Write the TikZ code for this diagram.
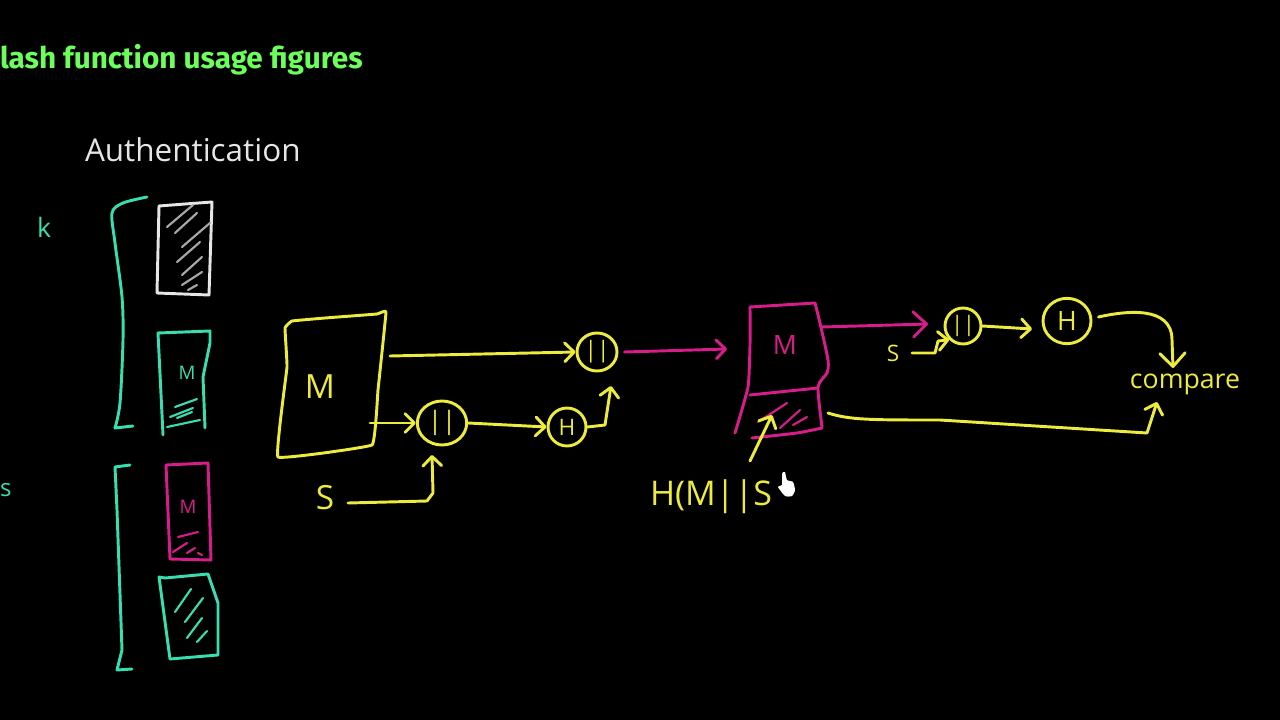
\documentclass[tikz,border=0pt]{standalone}
\usepackage{fontspec}
\usetikzlibrary{shapes.geometric,arrows.meta}
\setmainfont{Open Sans}
\newfontfamily\titlefont{Fira Sans}[UprightFont=* Bold]
\definecolor{yelink}{HTML}{EDEB3C}
\definecolor{magink}{HTML}{D91C8C}
\definecolor{tealink}{HTML}{38DDB0}
\definecolor{whiteink}{HTML}{E6E6E6}
\definecolor{hatchink}{HTML}{A8A8A8}
\definecolor{titleink}{HTML}{6CFF5C}
\newcommand{\fs}[1]{\fontsize{#1}{#1}\selectfont}
\tikzset{
  x=0.75pt,y=-0.75pt,
  pen/.style={line width=2.2pt,line cap=round,line join=round},
  thin pen/.style={line width=1.6pt,line cap=round,line join=round},
  arr/.style={pen,-{Straight Barb[length=7pt,width=14pt,round]}},
  bigarr/.style={pen,-{Straight Barb[length=10pt,width=19pt,round]}},
  ring/.style={ellipse,draw=yelink,pen,inner sep=0pt,text=yelink},
  word/.style={inner sep=0pt,outer sep=0pt},
}
\begin{document}
\begin{tikzpicture}
\fill[black,use as bounding box] (0,0) rectangle (1280,720);

% Title and headings
\node[word,anchor=west,text=titleink] (title) at (0,60) {\titlefont\fs{22.3}lash function usage figures};
\node[word,anchor=west,text=whiteink] (auth) at (85,150) {\fs{23.6}Authentication};
\node[word,text=tealink] (klabel) at (44,227) {\fs{20}k};
\node[word,anchor=west,text=tealink] (slabel) at (0,490) {\fs{18}s};

% Left column: brackets
\draw[pen,tealink] plot[smooth,tension=.5] coordinates {(147,197)(123,203)(112,213)(115,243)(122,297)(123,340)(120,403)(115,428)};
\draw[pen,tealink] (115,428) -- (133,426);
\draw[pen,tealink] (130,465) -- (115,467) -- (117,510) -- (122,650) -- (117,670) -- (132,669);

% Left column: white box
\draw[pen,whiteink] (159,206) -- (185,204) -- (212,202) -- (209,295) -- (157,293) -- cycle;
\draw[thin pen,hatchink] (167,227) -- (193,205) (175,233) -- (197,213) (182,247) -- (210,223)
  (177,262) -- (200,242) (182,275) -- (202,257) (182,285) -- (202,272) (188,290) -- (197,285);

% Left column: teal box with M
\draw[pen,tealink] (163,435) -- (158,333) -- (210,331) -- (210,343) -- (203,377) -- (205,428);
\draw[thin pen,tealink] (167,427) -- (200,420) (175,407) -- (197,399) (170,417) -- (193,408) (177,418) -- (192,412);
\node[word,text=tealink] (tealm) at (187,373) {\fs{14}M};

% Left column: magenta box with M
\draw[pen,magink] (166,465) -- (208,463) -- (211,560) -- (170,559) -- cycle;
\node[word,text=magink] (magm) at (188,507) {\fs{14}M};
\draw[thin pen,magink] (178,537) -- (198,532) (173,552) -- (187,543) (187,553) -- (195,548) (198,553) -- (202,555);

% Left column: teal hatched box
\draw[pen,tealink] (159,577) -- (165,578) -- (208,574) -- (218,603) -- (218,655) -- (170,659) -- cycle;
\draw[thin pen,tealink] (175,612) -- (191,589) (185,622) -- (203,598) (187,638) -- (202,618) (197,642) -- (207,631);

% Large message box
\draw[pen,yelink] plot[smooth cycle,tension=.12] coordinates {(285,328)(292,321)(325,318)(377,314)(386,312)(378,390)(372,445)(278,457)(287,367)};
\node[word,text=yelink] (bigm) at (320,387) {\fs{25}M};
\coordinate (boxa) at (390,356);
\coordinate (boxb) at (370,423);

% First sender: rings
\node[ring,minimum width=30pt,minimum height=28.5pt] (c1) at (597,352) {\fs{17}||};
\node[ring,minimum width=37pt,minimum height=33pt] (c2) at (442,423) {\fs{19}||};
\node[ring,minimum width=28.5pt,minimum height=28.5pt] (h1) at (567,427) {\fs{17}H};
\node[word,text=yelink] (s1) at (325,498) {\fs{25}S};
\coordinate (s1end) at (348,503);

% First sender: connectors
\draw[arr,yelink] (boxa) -- (c1.west);
\draw[arr,yelink] (boxb) -- (c2.west);
\draw[arr,yelink] (c2.east) -- (h1.west);
\draw[arr,yelink] (h1.east) -- (605,425) -- (611,386);
\draw[arr,yelink] (s1end) -- (427,501) -- (433,493) -- (432,455);

% Magenta message box
\draw[pen,magink] plot[smooth,tension=.3] coordinates {(735,433)(748,387)(750,345)(750,307)};
\draw[pen,magink] (750,307) -- (815,303);
\draw[pen,magink] plot[smooth,tension=.4] coordinates {(815,303)(820,323)(828,360)(827,373)(818,387)(822,427)};
\draw[pen,magink] plot[smooth,tension=.3] coordinates {(822,428)(797,433)(752,438)};
\draw[pen,magink] (750,395) -- (818,388);
\draw[thin pen,magink] (758,422) -- (787,403) (780,428) -- (800,410) (793,425) -- (807,417);
\node[word,text=magink] (pinkm) at (785,345) {\fs{20}M};
\coordinate (pinkin) at (727,349);
\coordinate (pinkout) at (822,327);
\coordinate (pinklow) at (828,413);
\coordinate (pinkhash) at (772,415);

% Hash label, cursor
\node[word,anchor=west,text=yelink] (hlabel) at (650,497) {\fs{25.5}H(M||S};
\coordinate (hlabeltop) at (750,461);
\fill[white] plot[smooth cycle,tension=.35] coordinates {(783,472)(785,472)(787,480)(793,482)(795,490)(792,496)(785,496)(778,487)(782,485)(782,474)};

% Middle connectors
\draw[arr,magink] (c1.east) ++(6,0) -- (pinkin);
\draw[arr,yelink] (hlabeltop) -- (pinkhash);

% Receiver
\node[ring,minimum width=27pt,minimum height=27pt] (c3) at (963,326) {\fs{16}||};
\node[ring,minimum width=36pt,minimum height=34pt] (h2) at (1067,321) {\fs{20}H};
\node[word,text=yelink] (s2) at (893,353) {\fs{17}S};
\coordinate (s2end) at (912,353);
\node[word,text=yelink] (cmp) at (1185,384) {\fs{20}compare};
\coordinate (h2in) at (1032,329);
\coordinate (cmpin) at (1173,368);

\draw[bigarr,magink] (pinkout) -- (928,324);
\draw[arr,yelink] (s2end) -- (935,353) -- (938,341) -- (c3.south west);
\draw[arr,yelink] (c3.east) -- (h2in);
\draw[bigarr,yelink] (h2.east) ++(6,-4) .. controls (1125,311) and (1172,305) .. (1172,340) -- (cmpin);
\draw[arr,yelink] (pinklow) .. controls (850,420) and (870,420) .. (940,420) -- (1147,433) -- (1157,402);
\end{tikzpicture}
\end{document}
